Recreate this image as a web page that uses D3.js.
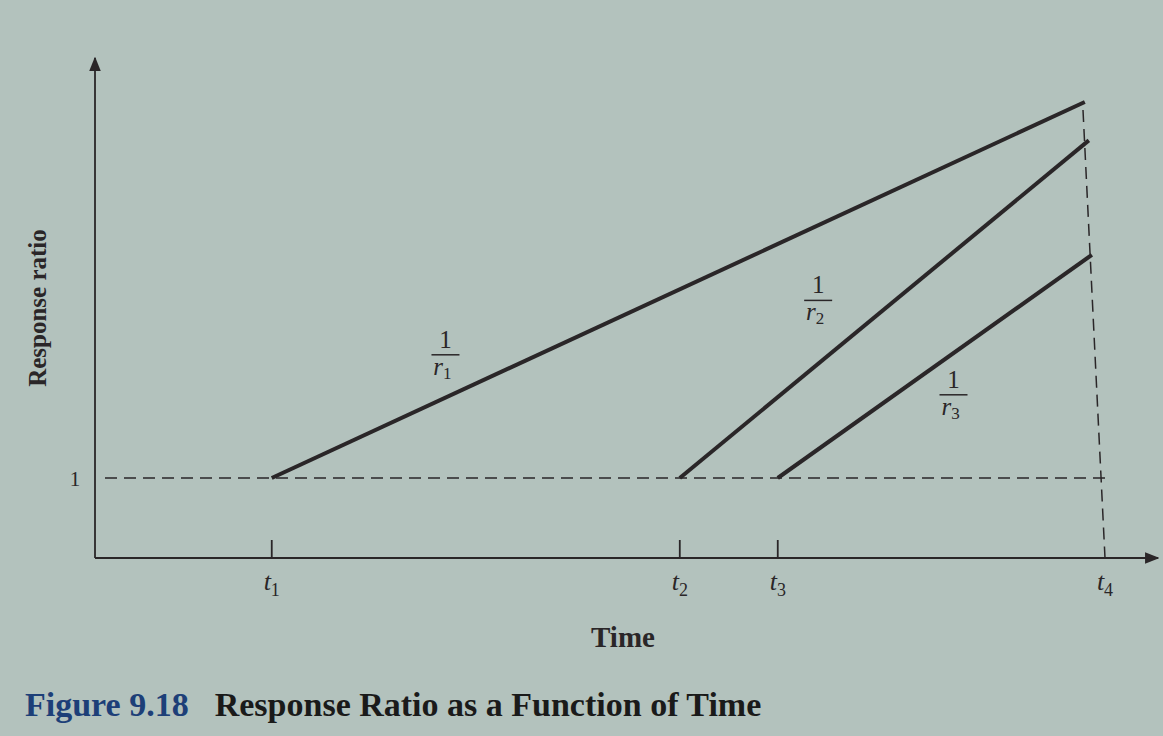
<!DOCTYPE html>
<html><head><meta charset="utf-8">
<script src="https://cdn.jsdelivr.net/npm/d3@7"></script>
<style>
body{margin:0;background:#b3c2bd;}
text{font-family:"Liberation Serif","DejaVu Serif",serif;}
</style></head>
<body>
<script>
// time marks
const tickNames = ["1", "2", "3", "4"];
const tickTimes = [1.75, 5.79, 6.76, 10];
// response-ratio lines: start time, end time, end ratio
const seriesNames = ["1", "2", "3"];
const startTimes = [1.75, 5.79, 6.76];
const endTimes = [9.8, 9.84, 9.87];
const endRatios = [5.7, 5.22, 3.79];
const labelPos = [[3.47, 2.54], [7.16, 3.22], [8.5, 2.04]];

const W = 1163, H = 736;
const svg = d3.select("body").append("svg").attr("width", W).attr("height", H);

const x = d3.scaleLinear().domain([0, 10]).range([95, 1105]);
const y = d3.scaleLinear().domain([0, 6]).range([558, 78]);
const ink = "#2a2628";

// axes with arrows
svg.append("defs").append("marker").attr("id", "arr")
  .attr("viewBox", "0 0 10 10").attr("refX", 9).attr("refY", 5)
  .attr("markerWidth", 8).attr("markerHeight", 8).attr("orient", "auto")
  .append("path").attr("d", "M0,1L10,5L0,9Z").attr("fill", ink);

svg.append("line").attr("x1", x(0)).attr("x2", 1158).attr("y1", y(0)).attr("y2", y(0))
  .attr("stroke", ink).attr("stroke-width", 1.8).attr("marker-end", "url(#arr)");
svg.append("line").attr("x1", x(0)).attr("x2", x(0)).attr("y1", y(0)).attr("y2", 58)
  .attr("stroke", ink).attr("stroke-width", 1.8).attr("marker-end", "url(#arr)");

// dashed reference lines
svg.append("line").attr("x1", x(0) + 10).attr("x2", x(10)).attr("y1", y(1)).attr("y2", y(1))
  .attr("stroke", ink).attr("stroke-width", 1.5).attr("stroke-dasharray", "12,7");
svg.append("line").attr("x1", x(10) - 22).attr("x2", x(10)).attr("y1", y(5.7) + 8).attr("y2", y(0))
  .attr("stroke", ink).attr("stroke-width", 1.5).attr("stroke-dasharray", "12,7");
svg.append("text").attr("x", 75).attr("y", y(1) + 8).attr("font-size", 21)
  .attr("text-anchor", "middle").attr("fill", ink).text("1");

// ticks
tickTimes.forEach((t, i) => {
  if (i < 3) svg.append("line").attr("x1", x(t)).attr("x2", x(t)).attr("y1", y(0)).attr("y2", y(0) - 18)
    .attr("stroke", ink).attr("stroke-width", 1.8);
  const tx = svg.append("text").attr("x", x(t)).attr("y", 590).attr("font-size", 26)
    .attr("font-style", "italic").attr("text-anchor", "middle").attr("fill", ink);
  tx.append("tspan").text("t");
  tx.append("tspan").attr("font-size", 18).attr("dy", 6).attr("font-style", "normal").text(tickNames[i]);
});

// response-ratio lines
seriesNames.forEach((s, i) => {
  svg.append("line").attr("x1", x(startTimes[i])).attr("y1", y(1))
    .attr("x2", x(endTimes[i])).attr("y2", y(endRatios[i]))
    .attr("stroke", ink).attr("stroke-width", 4);
  const [lx, ly] = labelPos[i];
  const g = svg.append("g").attr("transform", `translate(${x(lx)},${y(ly)})`);
  g.append("text").attr("y", -7).attr("font-size", 25).attr("text-anchor", "middle").attr("fill", ink).text("1");
  g.append("line").attr("x1", -14).attr("x2", 14).attr("stroke", ink).attr("stroke-width", 1.5);
  const tx = g.append("text").attr("y", 20).attr("x", -3).attr("font-size", 25)
    .attr("font-style", "italic").attr("text-anchor", "middle").attr("fill", ink);
  tx.append("tspan").text("r");
  tx.append("tspan").attr("font-size", 17).attr("dy", 4).attr("font-style", "normal").text(s);
});

// axis titles
svg.append("text").attr("transform", "translate(46,308) rotate(-90)").attr("text-anchor", "middle")
  .attr("font-size", 25).attr("font-weight", "bold").attr("fill", ink).text("Response ratio");
svg.append("text").attr("x", 623).attr("y", 647).attr("text-anchor", "middle")
  .attr("font-size", 29).attr("font-weight", "bold").attr("fill", ink).text("Time");

// caption
const cap = svg.append("text").attr("x", 25).attr("y", 716).attr("font-size", 34).attr("font-weight", "bold");
cap.append("tspan").attr("fill", "#1d3f78").text("Figure 9.18");
cap.append("tspan").attr("dx", 26).attr("fill", "#1a1a1a").text("Response Ratio as a Function of Time");
</script>
</body></html>
